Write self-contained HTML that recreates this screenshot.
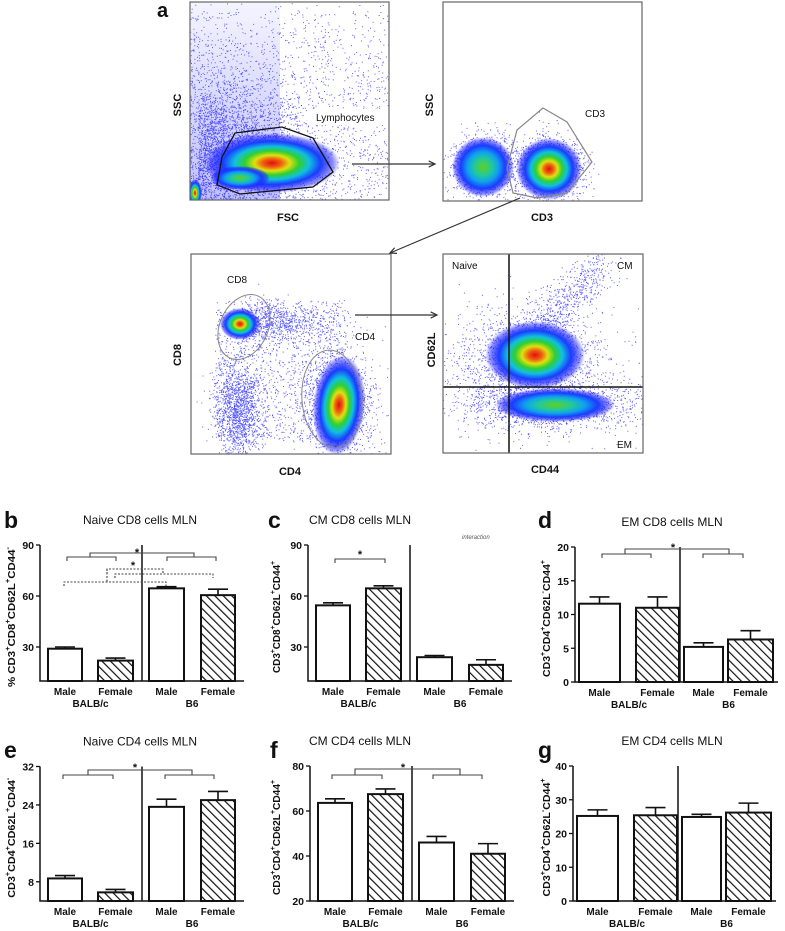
<!DOCTYPE html>
<html><head><meta charset="utf-8"><style>
html,body{margin:0;padding:0;background:#fff;}
svg{display:block;font-family:"Liberation Sans",Arial,sans-serif;}
</style></head><body>
<svg id="fig" width="785" height="931" viewBox="0 0 785 931" xmlns="http://www.w3.org/2000/svg">
<defs>
<pattern id="hatch" patternUnits="userSpaceOnUse" width="6" height="6" patternTransform="rotate(-45)">
<rect width="6" height="6" fill="#fff"/><line x1="0" y1="0" x2="0" y2="6" stroke="#111" stroke-width="2.4"/>
</pattern>
<radialGradient id="jet">
<stop offset="0" stop-color="#e01010"/><stop offset="0.14" stop-color="#f06010"/>
<stop offset="0.26" stop-color="#e0e010"/><stop offset="0.4" stop-color="#30d030"/>
<stop offset="0.55" stop-color="#10c0e0"/><stop offset="0.72" stop-color="#1a3cff"/>
<stop offset="0.9" stop-color="#2020ff" stop-opacity="0.5"/><stop offset="1" stop-color="#2020ff" stop-opacity="0"/>
</radialGradient>
<radialGradient id="jetg">
<stop offset="0" stop-color="#60d020"/><stop offset="0.3" stop-color="#20c8a0"/>
<stop offset="0.5" stop-color="#10a0f0"/><stop offset="0.72" stop-color="#1a3cff"/>
<stop offset="0.9" stop-color="#2020ff" stop-opacity="0.5"/><stop offset="1" stop-color="#2020ff" stop-opacity="0"/>
</radialGradient>
<linearGradient id="fade" x1="0" y1="0" x2="0" y2="1">
<stop offset="0" stop-color="#2a2aff" stop-opacity="0.05"/><stop offset="1" stop-color="#2a2aff" stop-opacity="0.3"/>
</linearGradient>
<clipPath id="c1"><rect x="190" y="2" width="199" height="198"/></clipPath>
<clipPath id="c2"><rect x="443" y="2" width="199" height="199"/></clipPath>
<clipPath id="c3"><rect x="191" y="254" width="200" height="200"/></clipPath>
<clipPath id="c4"><rect x="443" y="254" width="200" height="199"/></clipPath>
</defs>
</svg>
<script>
// ---------- chart data ----------
const categories=['Male','Female','Male','Female'];
const strains=['BALB/c','B6'];
const bValues=[29,22,64.5,60.5];
const bErrors=[1,1.5,1,3.5];
const bTicks=[30,60,90];
const cValues=[54.5,64.5,24,19.5];
const cErrors=[1.5,1.5,1,3];
const cTicks=[30,60,90];
const dValues=[11.6,11,5.2,6.3];
const dErrors=[1,1.6,0.6,1.3];
const dTicks=[0,5,10,15,20];
const eValues=[8.7,5.8,23.6,25];
const eErrors=[0.6,0.6,1.6,1.8];
const eTicks=[8,16,24,32];
const fValues=[63.6,67.5,46,41];
const fErrors=[1.8,2.3,2.7,4.5];
const fTicks=[20,40,60,80];
const gValues=[25.2,25.4,24.9,26.2];
const gErrors=[1.8,2.3,0.8,2.8];
const gTicks=[0,10,20,30,40];

const NS='http://www.w3.org/2000/svg';
const svg=document.getElementById('fig');
function el(tag,attrs,parent){const e=document.createElementNS(NS,tag);for(const k in attrs)e.setAttribute(k,attrs[k]);(parent||svg).appendChild(e);return e;}
function txt(s,attrs,parent){const t=el('text',attrs,parent);t.textContent=s;return t;}

// ---------- flow cytometry panels ----------
let seed=12345;
function rnd(){seed|=0;seed=seed+0x6D2B79F5|0;let t=Math.imul(seed^seed>>>15,1|seed);t=t+Math.imul(t^t>>>7,61|t)^t;return((t^t>>>14)>>>0)/4294967296;}
function gauss(){let u=rnd()||1e-9,v=rnd();return Math.sqrt(-2*Math.log(u))*Math.cos(2*Math.PI*v);}
function dots(g,n,fx){let d='';for(let i=0;i<n;i++){const p=fx();d+='M'+p[0].toFixed(1)+' '+p[1].toFixed(1)+'h1v1h-1z';}el('path',{d:d,fill:'#2a2aff','fill-opacity':'0.75'},g);}
function blob(g,cx,cy,rx,ry,grad,rot){el('ellipse',{cx:cx,cy:cy,rx:rx,ry:ry,fill:'url(#'+(grad||'jet')+')',transform:'rotate('+(rot||0)+' '+cx+' '+cy+')'},g);}

function plotBox(x,y,w,h,name){const r=el('rect',{x:x,y:y,width:w,height:h,fill:'none',stroke:'#666','stroke-width':'1.2'});

}

// plot 1 FSC/SSC
const g1=el('g',{'clip-path':'url(#c1)'});


el('rect',{x:190,y:2,width:90,height:198,fill:'url(#fade)'},g1);
dots(g1,2200,()=>[190+Math.pow(rnd(),1.4)*200,2+Math.pow(rnd(),0.7)*198]);
dots(g1,2800,()=>[198+Math.abs(gauss())*50,150+gauss()*35]);
blob(g1,272,163,68,30);
blob(g1,240,178,30,12,'jetg');
blob(g1,195,193,7,14);
el('rect',{x:307,y:109,width:84,height:16,fill:'#fff'},g1);
txt('Lymphocytes',{x:316,y:121,'font-size':'10',fill:'#111'},g1);
el('polygon',{points:'235,133 282,127 313,138 333,172 313,187 240,194 217,185 222,157',fill:'none',stroke:'#111','stroke-width':'1.3'},g1);
plotBox(190,2,199,198,'fsc-ssc-frame');

// plot 2 CD3/SSC
const g2=el('g',{'clip-path':'url(#c2)'});


dots(g2,1500,()=>[483+gauss()*15,166+gauss()*15]);
dots(g2,1500,()=>[549+gauss()*17,168+gauss()*15]);
blob(g2,483,167,31,30,'jetg');
blob(g2,549,169,33,31);
el('polygon',{points:'543,108 567,122 592,162 567,193 537,198 513,193 507,168 517,130',fill:'none',stroke:'#888','stroke-width':'1.2'},g2);
txt('CD3',{x:585,y:117,'font-size':'10',fill:'#111'},g2);
plotBox(443,2,199,199,'cd3-ssc-frame');

// plot 3 CD4/CD8
const g3=el('g',{'clip-path':'url(#c3)'});


dots(g3,1300,()=>[215+rnd()*130,300+rnd()*140]);
dots(g3,900,()=>[240+Math.abs(gauss())*45,322+gauss()*10]);
dots(g3,1400,()=>[238+gauss()*12,410+gauss()*25]);
dots(g3,1500,()=>[338+gauss()*18,405+gauss()*28]);
blob(g3,240,324,20,16);
blob(g3,339,405,26,50,'jet',5);
el('ellipse',{cx:244,cy:327,rx:24,ry:34,fill:'none',stroke:'#888','stroke-width':'1',transform:'rotate(25 244 327)'},g3);
el('ellipse',{cx:332,cy:399,rx:30,ry:49,fill:'none',stroke:'#888','stroke-width':'1',transform:'rotate(-5 332 399)'},g3);
txt('CD8',{x:227,y:283,'font-size':'10',fill:'#111'},g3);
txt('CD4',{x:355,y:340,'font-size':'10',fill:'#111'},g3);
plotBox(191,254,200,200,'cd4-cd8-frame');

// plot 4 CD44/CD62L
const g4=el('g',{'clip-path':'url(#c4)'});


dots(g4,2000,()=>[530+gauss()*40,365+gauss()*28]);
dots(g4,700,()=>{const t=rnd();return[530+t*70+gauss()*12,340-t*75+gauss()*12];});
dots(g4,1500,()=>[555+gauss()*45,405+gauss()*12]);
blob(g4,535,355,50,34);
blob(g4,555,405,60,17,'jetg');
el('line',{x1:509,y1:254,x2:509,y2:453,stroke:'#111','stroke-width':'1.5'},g4);
el('line',{x1:443,y1:387,x2:643,y2:387,stroke:'#111','stroke-width':'1.5'},g4);
txt('Naive',{x:452,y:269,'font-size':'10',fill:'#111'},g4);
txt('CM',{x:617,y:269,'font-size':'10',fill:'#111'},g4);
txt('EM',{x:617,y:448,'font-size':'10',fill:'#111'},g4);
plotBox(443,254,200,199,'cd44-cd62l-frame');

// axis labels of flow plots
const flowLabels=[['SSC',178,105,true],['FSC',288,218,false],['SSC',430,105,true],['CD3',542,218,false],['CD8',178,355,true],['CD4',290,472,false],['CD62L',432,350,true],['CD44',545,470,false]];
flowLabels.forEach(l=>{const t=txt(l[0],{x:l[1],y:l[2],'font-size':'11','font-weight':'bold','text-anchor':'middle','dominant-baseline':'middle',fill:'#111',transform:l[3]?'rotate(-90 '+l[1]+' '+l[2]+')':''});

});

// arrows
const arrows=[[352,164,435,164],[520,198,390,253],[355,315,437,315]];
arrows.forEach(a=>{const g=el('g',{stroke:'#333','stroke-width':'1.2',fill:'none'});


el('line',{x1:a[0],y1:a[1],x2:a[2],y2:a[3]},g);
const ang=Math.atan2(a[3]-a[1],a[2]-a[0]);const L=7;
const p1=[a[2]-L*Math.cos(ang-0.45),a[3]-L*Math.sin(ang-0.45)],p2=[a[2]-L*Math.cos(ang+0.45),a[3]-L*Math.sin(ang+0.45)];
el('polyline',{points:p1.join(',')+' '+a[2]+','+a[3]+' '+p2.join(',')},g);});

// panel letters
const letters=[['a',157,17,20],['b',4,528,23],['c',268,528,23],['d',538,528,23],['e',4,758,23],['f',270,758,23],['g',538,758,23]];
letters.forEach(l=>{const t=txt(l[0],{x:l[1],y:l[2],'font-size':l[3],'font-weight':'bold',fill:'#111'});

});

// ---------- bar charts ----------
const layoutA={bars:[[8,42],[58,93],[109,144],[161,195]],div:102,end:204};
const layoutB={bars:[[4,45],[61,104],[109,148],[153,198]],div:105,end:203};
const charts=[
 {id:'b',title:'Naive CD8 cells MLN',tx:140,ax:40,y0:681,y1:545,min:10,max:90,vals:bValues,errs:bErrors,ticks:bTicks,L:layoutA,ylab:['% CD3','+','CD8','+','CD62L','+','CD44','-'],ylx:12,yll:140},
 {id:'c',title:'CM CD8 cells MLN',tx:360,ax:308,y0:681,y1:545,min:10,max:90,vals:cValues,errs:cErrors,ticks:cTicks,L:layoutA,ylab:['CD3','+','CD8','+','CD62L','+','CD44','+'],ylx:277,yll:112},
 {id:'d',title:'EM CD8 cells MLN',tx:672,ax:575,y0:682,y1:547,min:0,max:20,vals:dValues,errs:dErrors,ticks:dTicks,L:layoutB,ylab:['CD3','+','CD4','+','CD62L','-','CD44','+'],ylx:547,yll:117},
 {id:'e',title:'Naive CD4 cells MLN',tx:140,ax:40,y0:901,y1:766.5,min:4,max:32,vals:eValues,errs:eErrors,ticks:eTicks,L:layoutA,ylab:['CD3','+','CD4','+','CD62L','+','CD44','-'],ylx:12,yll:120},
 {id:'f',title:'CM CD4 cells MLN',tx:360,ax:310,y0:901,y1:766,min:20,max:80,vals:fValues,errs:fErrors,ticks:fTicks,L:layoutA,ylab:['CD3','+','CD4','+','CD62L','+','CD44','+'],ylx:277,yll:115},
 {id:'g',title:'EM CD4 cells MLN',tx:672,ax:573,y0:901,y1:766,min:0,max:40,vals:gValues,errs:gErrors,ticks:gTicks,L:layoutB,ylab:['CD3','+','CD4','+','CD62L','-','CD44','+'],ylx:547,yll:118}
];

charts.forEach(c=>{
 const g=el('g',{});
 
 
 const Y=v=>c.y0-(v-c.min)/(c.max-c.min)*(c.y0-c.y1);
 const t=txt(c.title,{x:c.tx,y:c.y1-21,'font-size':'12','text-anchor':'middle',fill:'#111'},g);
 
 
 const yl=el('text',{x:c.ylx,y:(c.y0+c.y1)/2+4,'font-size':'10.5','font-weight':'bold','text-anchor':'middle','dominant-baseline':'middle',fill:'#111',transform:'rotate(-90 '+c.ylx+' '+((c.y0+c.y1)/2+4)+')',textLength:c.yll,lengthAdjust:'spacingAndGlyphs'},g);
 
 
 c.ylab.forEach((s,i)=>{const ts=el('tspan',i%2?{'font-size':'7','dy':'-4'}:(i>0?{'dy':'4'}:{}),yl);ts.textContent=s;});
 const ax=el('path',{d:'M'+c.ax+' '+c.y1+'V'+c.y0+'H'+(c.ax+c.L.end),stroke:'#111','stroke-width':'1.5',fill:'none'},g);
 
 
 c.ticks.forEach(v=>{
  el('line',{x1:c.ax-4,x2:c.ax,y1:Y(v),y2:Y(v),stroke:'#111','stroke-width':'1.3'},g);
  const tl=txt(String(v),{x:c.ax-6,y:Y(v)+4,'font-size':'10.5','font-weight':'bold','text-anchor':'end',fill:'#111'},g);
  
  
 });
 c.vals.forEach((v,i)=>{
  const b=c.L.bars[i];const x0=c.ax+b[0],x1=c.ax+b[1],mid=(x0+x1)/2;
  const top=Y(v),et=Y(v+c.errs[i]);
  el('line',{x1:mid,x2:mid,y1:top,y2:et,stroke:'#111','stroke-width':'1.6'},g);
  el('line',{x1:mid-10,x2:mid+10,y1:et,y2:et,stroke:'#111','stroke-width':'1.6'},g);
  const r=el('rect',{x:x0,y:top,width:x1-x0,height:c.y0-top,fill:i%2?'url(#hatch)':'#fff',stroke:'#111','stroke-width':'2'},g);
  
  
  const cl=txt(categories[i],{x:mid,y:c.y0+14,'font-size':'10','font-weight':'bold','text-anchor':'middle',fill:'#111'},g);
  
  
 });
 const dv=el('line',{x1:c.ax+c.L.div,x2:c.ax+c.L.div,y1:c.y1,y2:c.y0,stroke:'#111','stroke-width':'1.5'},g);
 
 
 strains.forEach((s,k)=>{
  const x=c.ax+(c.L.bars[2*k][0]+c.L.bars[2*k+1][1])/2;
  const sl=txt(s,{x:x,y:c.y0+26,'font-size':'10','font-weight':'bold','text-anchor':'middle',fill:'#111'},g);
  
  
 });
});

// significance brackets (annotations)
function br(x1,x2,y,h,dash){const p=el('path',{d:'M'+x1+' '+(y+h)+'V'+y+'H'+x2+'V'+(y+h),stroke:'#444','stroke-width':'1.1',fill:'none','stroke-dasharray':dash?'2,1.5':'none'});

}
function star(x,y){const s=txt('*',{x:x,y:y,'font-size':'11','font-weight':'bold','text-anchor':'middle',fill:'#111'});

}
br(67,116,557,4);br(90,194,553,4);br(167,216,557,4);star(137,556);
br(107,163,569,5,true);br(115,213,574,4,true);br(64,166,582,4,true);
el('line',{x1:107,y1:569,x2:107,y2:582,stroke:'#444','stroke-width':'1.1','stroke-dasharray':'2,1.5'});
star(133,569);
br(335,385,559,4);star(360,558);
const it=txt('interaction',{x:462,y:539,'font-size':'6','font-style':'italic',fill:'#555'});


br(602,651,554,4);br(625,729,549,5);br(703,743,554,4);star(673,551);
br(63,113,775,4);br(88,192,770,5);br(165,214,775,4);star(135,771);
br(332,382,775,4);br(355,460,769,6);br(433,482,775,4);star(403,771);
</script>
</body></html>
